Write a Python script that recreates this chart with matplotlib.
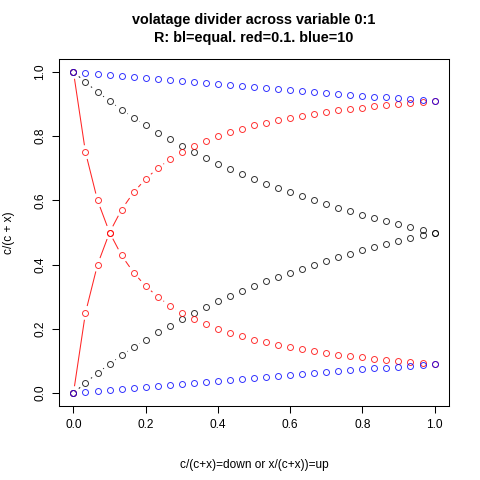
import numpy as np
import matplotlib
matplotlib.use("Agg")
import matplotlib.pyplot as plt

plt.rcParams['font.family'] = ['Liberation Sans', 'DejaVu Sans']

# x = 0, 1/30, ..., 1
x_vals = [0.0, 0.0333, 0.0667, 0.1, 0.1333, 0.1667, 0.2, 0.2333, 0.2667, 0.3,
          0.3333, 0.3667, 0.4, 0.4333, 0.4667, 0.5, 0.5333, 0.5667, 0.6, 0.6333,
          0.6667, 0.7, 0.7333, 0.7667, 0.8, 0.8333, 0.8667, 0.9, 0.9333, 0.9667, 1.0]

# black: c equal
black_down = [1.0, 0.9677, 0.9375, 0.9091, 0.8824, 0.8571, 0.8333, 0.8108, 0.7895, 0.7692,
              0.75, 0.7317, 0.7143, 0.6977, 0.6818, 0.6667, 0.6522, 0.6383, 0.625, 0.6122,
              0.6, 0.5882, 0.5769, 0.566, 0.5556, 0.5455, 0.5357, 0.5263, 0.5172, 0.5085, 0.5]
black_up = [0.0, 0.0323, 0.0625, 0.0909, 0.1176, 0.1429, 0.1667, 0.1892, 0.2105, 0.2308,
            0.25, 0.2683, 0.2857, 0.3023, 0.3182, 0.3333, 0.3478, 0.3617, 0.375, 0.3878,
            0.4, 0.4118, 0.4231, 0.434, 0.4444, 0.4545, 0.4643, 0.4737, 0.4828, 0.4915, 0.5]
# red: c = 0.1
red_down = [1.0, 0.75, 0.6, 0.5, 0.4286, 0.375, 0.3333, 0.3, 0.2727, 0.25,
            0.2308, 0.2143, 0.2, 0.1875, 0.1765, 0.1667, 0.1579, 0.15, 0.1429, 0.1364,
            0.1304, 0.125, 0.12, 0.1154, 0.1111, 0.1071, 0.1034, 0.1, 0.0968, 0.0938, 0.0909]
red_up = [0.0, 0.25, 0.4, 0.5, 0.5714, 0.625, 0.6667, 0.7, 0.7273, 0.75,
          0.7692, 0.7857, 0.8, 0.8125, 0.8235, 0.8333, 0.8421, 0.85, 0.8571, 0.8636,
          0.8696, 0.875, 0.88, 0.8846, 0.8889, 0.8929, 0.8966, 0.9, 0.9032, 0.9063, 0.9091]
# blue: c = 10
blue_down = [1.0, 0.9967, 0.9934, 0.9901, 0.9868, 0.9836, 0.9804, 0.9772, 0.974, 0.9709,
             0.9677, 0.9646, 0.9615, 0.9585, 0.9554, 0.9524, 0.9494, 0.9464, 0.9434, 0.9404,
             0.9375, 0.9346, 0.9317, 0.9288, 0.9259, 0.9231, 0.9202, 0.9174, 0.9146, 0.9119, 0.9091]
blue_up = [0.0, 0.0033, 0.0066, 0.0099, 0.0132, 0.0164, 0.0196, 0.0228, 0.026, 0.0291,
           0.0323, 0.0354, 0.0385, 0.0415, 0.0446, 0.0476, 0.0506, 0.0536, 0.0566, 0.0596,
           0.0625, 0.0654, 0.0683, 0.0712, 0.0741, 0.0769, 0.0798, 0.0826, 0.0854, 0.0881, 0.0909]

W, H = 480, 480
fig = plt.figure(figsize=(4.8, 4.8), dpi=100)
ax = fig.add_axes([59 / W, 1 - 406 / H, (449 - 59) / W, (406 - 59) / H])
ax.set_xlim(-0.04, 1.04)
ax.set_ylim(-0.04, 1.04)


def r_type_b(ax, xs, ys, col, gap=7.0):
    '''points plus segments with gaps round each point, like R type="b"'''
    pts = ax.transData.transform(np.column_stack([xs, ys]))
    inv = ax.transData.inverted()
    for p1, p2 in zip(pts[:-1], pts[1:]):
        d = np.hypot(*(p2 - p1))
        if d > 2 * gap:
            u = (p2 - p1) / d
            seg = inv.transform(np.array([p1 + gap * u, p2 - gap * u]))
            ax.plot(seg[:, 0], seg[:, 1], color=col, lw=0.75, alpha=0.85,
                    solid_capstyle='butt')
    ax.plot(xs, ys, 'o', mfc='none', mec=col, ms=4.3, mew=0.7, alpha=0.8, ls='none')


for ys, col in [(black_down, 'black'), (black_up, 'black'),
                (red_down, 'red'), (red_up, 'red'),
                (blue_down, 'blue'), (blue_up, 'blue')]:
    r_type_b(ax, x_vals, ys, col)

ticks = [0.0, 0.2, 0.4, 0.6, 0.8, 1.0]
ax.set_xticks(ticks)
ax.set_yticks(ticks)
ax.set_xticklabels(['0.0', '0.2', '0.4', '0.6', '0.8', '1.0'])
ax.set_yticklabels(['0.0', '0.2', '0.4', '0.6', '0.8', '1.0'], rotation=90, va='center')
ax.tick_params(direction='out', length=5.2, width=0.75, labelsize=8.6, pad=4)
for s in ax.spines.values():
    s.set_linewidth(0.75)

ax.set_xlabel('c/(c+x)=down or x/(c+x))=up', fontsize=8.6, labelpad=20)
ax.set_ylabel('c/(c + x)', fontsize=8.6, labelpad=14)

cx = (59 + 449) / 2 / W
fig.text(cx, 1 - 20 / H, 'volatage divider across variable 0:1', ha='center', va='center',
         fontsize=10.4, fontweight='bold')
fig.text(cx, 1 - 38 / H, 'R: bl=equal. red=0.1. blue=10', ha='center', va='center',
         fontsize=10.4, fontweight='bold')

fig.savefig('out.png', dpi=100)
